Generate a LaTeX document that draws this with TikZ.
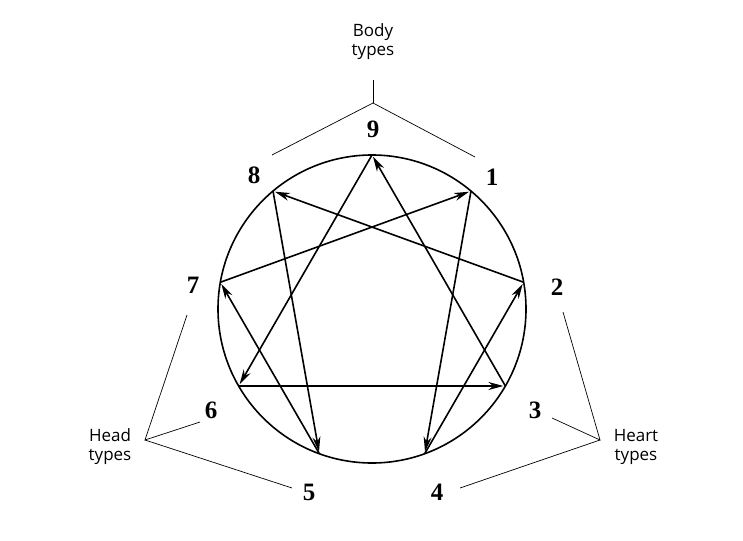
\documentclass[tikz,border=0pt]{standalone}
\usepackage{fontspec}
\setmainfont{Liberation Serif}
\newfontfamily\lab{Open Sans}
\usetikzlibrary{arrows.meta}
\begin{document}
\begin{tikzpicture}[x=1pt,y=-1pt,
  num/.style={font=\fontsize{25}{25}\selectfont\bfseries},
  lbl/.style={font=\lab\fontsize{17}{19}\selectfont,align=center},
  edge/.style={line width=1.6pt,-{Stealth[length=15pt,width=8pt]},shorten >=2pt},
  thin/.style={line width=0.7pt}]
\useasboundingbox (0,0) rectangle (743,540);
\node[draw,circle,line width=1.6pt,minimum size=308pt,inner sep=0pt] (c) at (372,309) {};
\foreach \k in {0,...,8}{
  \pgfmathsetmacro\ang{90-40*\k}
  \coordinate (p\k) at ({372+154*cos(\ang)},{309-154*sin(\ang)});
}
\foreach \a/\b in {1/4,4/2,2/8,8/5,5/7,7/1,0/6,6/3,3/0}{
  \draw[edge] (p\a) -- (p\b);
}
\node[num] (n9) at (373,129) {9};
\node[num] (n1) at (492,177) {1};
\node[num] (n2) at (557,287) {2};
\node[num] (n3) at (535,410) {3};
\node[num] (n4) at (437,492) {4};
\node[num] (n5) at (309,492) {5};
\node[num] (n6) at (211,410) {6};
\node[num] (n7) at (193,285) {7};
\node[num] (n8) at (254,175) {8};
\node[lbl] (body) at (373,42) {Body\\types};
\node[lbl] (head) at (110,447) {Head\\types};
\node[lbl] (heart) at (636,447) {Heart\\types};
\coordinate (bj) at (373,103);
\draw[thin] (373,80) -- (bj);
\draw[thin] (272,155) -- (bj) -- (475,157);
\coordinate (hj) at (145,440);
\draw[thin] (187,315) -- (hj) -- (200,422);
\draw[thin] (hj) -- (292,488);
\coordinate (rj) at (600,440);
\draw[thin] (563,312) -- (rj) -- (552,418);
\draw[thin] (rj) -- (460,488);
\end{tikzpicture}
\end{document}
